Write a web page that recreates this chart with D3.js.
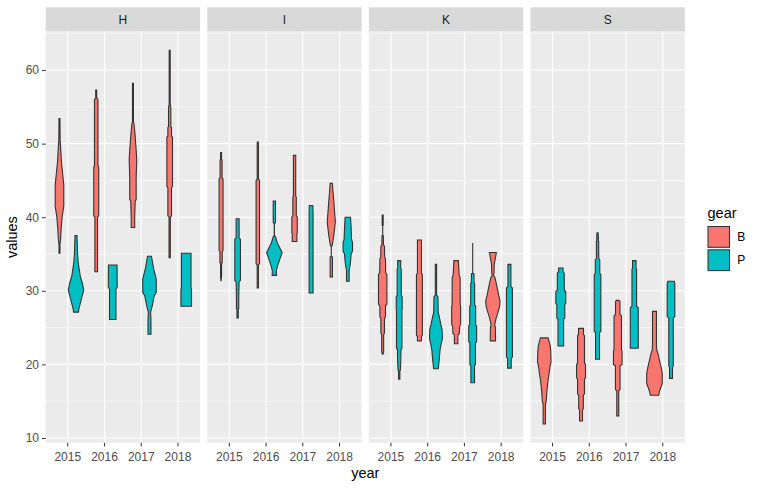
<!DOCTYPE html>
<html lang="en">
<head>
  <meta charset="UTF-8">
  <title>Violins by year and gear</title>
  <script src="https://d3js.org/d3.v7.min.js"></script>
  <style>
    body { margin: 0; background: #fff; }
    svg { display: block; font-family: "Liberation Sans", Arial, sans-serif; }
    .tick text { fill: #4D4D4D; font-size: 12px; }
    .tick line { stroke: #333333; }
  </style>
</head>
<body>
  <div id="chart"></div>
  <script>
    // facets, categories and tick values
    const facets = ["H", "I", "K", "S"];
    const years = ["2015", "2016", "2017", "2018"];
    const gears = ["B", "P"];
    const yTicks = [10, 20, 30, 40, 50, 60];

    // violin outlines: [value, relative density width]
    const violinsH = [
      { year: "2015", gear: "B", profile: [[53.4,0.12],[50.5,0.14],[49.5,0.2],[47.5,0.3],[45.5,0.48],[44.4,0.58],[41.5,0.58],[40.2,0.4],[38.6,0.27],[37.0,0.2],[36.3,0.12],[35.1,0.12]] },
      { year: "2015", gear: "P", profile: [[37.5,0.18],[35.0,0.25],[33.8,0.33],[32.0,0.57],[31.1,0.81],[30.1,1.0],[29.3,0.81],[28.4,0.6],[27.5,0.4],[27.1,0.36]] },
      { year: "2016", gear: "B", profile: [[57.3,0.12],[56.2,0.12],[56.0,0.27],[47.0,0.27],[46.8,0.36],[40.2,0.36],[40.0,0.22],[32.6,0.22]] },
      { year: "2016", gear: "P", profile: [[33.5,0.58],[30.5,0.6],[30.2,0.45],[26.1,0.45]] },
      { year: "2017", gear: "B", profile: [[58.2,0.12],[53.0,0.12],[52.8,0.18],[51.4,0.3],[49.6,0.42],[47.8,0.52],[45.5,0.45],[42.4,0.45],[42.2,0.33],[40.0,0.27],[38.6,0.27]] },
      { year: "2017", gear: "P", profile: [[34.7,0.3],[32.9,0.58],[31.6,0.88],[29.8,0.88],[29.3,0.63],[28.0,0.4],[27.1,0.2],[25.9,0.24],[24.1,0.24]] },
      { year: "2018", gear: "B", profile: [[62.7,0.12],[55.3,0.12],[55.0,0.2],[52.3,0.2],[52.2,0.28],[51.0,0.28],[50.9,0.4],[44.2,0.4],[44.0,0.28],[40.2,0.28],[40.0,0.14],[34.5,0.14]] },
      { year: "2018", gear: "P", profile: [[35.1,0.64],[30.4,0.64],[30.2,0.7],[27.9,0.7]] }
    ];
    const violinsI = [
      { year: "2015", gear: "B", profile: [[48.8,0.12],[47.9,0.12],[47.8,0.18],[45.4,0.18],[45.2,0.3],[35.5,0.3],[35.3,0.2],[33.8,0.2],[33.7,0.12],[32.0,0.12],[31.3,0.06]] },
      { year: "2015", gear: "P", profile: [[39.8,0.24],[37.2,0.24],[37.0,0.4],[31.4,0.4],[31.2,0.24],[29.0,0.2],[27.6,0.2],[27.5,0.14],[26.3,0.14]] },
      { year: "2016", gear: "B", profile: [[50.2,0.12],[49.8,0.14],[45.2,0.14],[45.0,0.27],[33.7,0.27],[33.5,0.14],[30.4,0.14]] },
      { year: "2016", gear: "P", profile: [[42.2,0.2],[39.3,0.2],[39.1,0.07],[37.5,0.07],[37.4,0.18],[36.5,0.42],[35.2,1.0],[34.3,0.72],[33.4,0.45],[32.7,0.3],[32.1,0.33]] },
      { year: "2017", gear: "B", profile: [[48.4,0.2],[42.9,0.2],[42.7,0.27],[40.2,0.27],[40.0,0.39],[37.9,0.39],[37.7,0.34],[36.7,0.34]] },
      { year: "2017", gear: "P", profile: [[41.6,0.27],[40.6,0.3],[29.7,0.3]] },
      { year: "2018", gear: "B", profile: [[44.6,0.2],[43.7,0.25],[42.4,0.35],[40.4,0.48],[39.5,0.55],[38.8,0.5],[37.5,0.36],[36.5,0.22],[36.1,0.15],[36.0,0.06],[34.7,0.06],[34.6,0.2],[31.9,0.2]] },
      { year: "2018", gear: "P", profile: [[40.0,0.39],[38.8,0.45],[37.0,0.51],[36.6,0.63],[35.4,0.63],[35.0,0.46],[34.1,0.4],[33.2,0.3],[32.8,0.22],[31.3,0.22]] }
    ];
    const violinsK = [
      { year: "2015", gear: "B", profile: [[40.3,0.12],[38.9,0.12],[38.8,0.06],[37.6,0.06],[37.5,0.14],[36.3,0.16],[36.0,0.28],[34.6,0.3],[34.3,0.4],[32.5,0.42],[32.2,0.57],[28.2,0.57],[27.9,0.4],[26.5,0.4],[26.2,0.28],[24.3,0.28],[24.0,0.18],[21.7,0.18],[21.4,0.1]] },
      { year: "2015", gear: "P", profile: [[34.1,0.24],[33.1,0.24],[32.9,0.31],[29.4,0.31],[29.2,0.42],[27.5,0.42],[27.3,0.39],[22.2,0.39],[22.0,0.27],[20.4,0.25],[19.2,0.2],[19.1,0.14],[18.0,0.14]] },
      { year: "2016", gear: "B", profile: [[36.9,0.3],[32.4,0.3],[32.2,0.42],[24.0,0.42],[23.8,0.3],[23.2,0.3]] },
      { year: "2016", gear: "P", profile: [[33.6,0.14],[29.4,0.14],[29.2,0.3],[27.1,0.33],[26.5,0.46],[25.5,0.64],[24.8,0.8],[23.5,0.84],[22.8,0.69],[21.9,0.55],[20.5,0.45],[19.4,0.34]] },
      { year: "2017", gear: "B", profile: [[34.1,0.33],[33.4,0.36],[32.2,0.42],[31.8,0.54],[28.2,0.55],[27.8,0.6],[25.5,0.6],[25.1,0.48],[24.2,0.45],[24.0,0.27],[22.8,0.27]] },
      { year: "2017", gear: "P", profile: [[36.5,0.06],[32.4,0.06],[32.3,0.22],[31.1,0.22],[31.0,0.3],[28.1,0.3],[27.9,0.42],[25.4,0.42],[25.2,0.54],[23.1,0.54],[22.9,0.4],[20.0,0.4],[19.8,0.28],[17.5,0.28]] },
      { year: "2018", gear: "B", profile: [[35.2,0.48],[34.7,0.4],[34.1,0.3],[33.5,0.22],[32.4,0.2],[32.1,0.14],[31.8,0.3],[31.1,0.45],[30.2,0.62],[29.3,0.78],[28.6,0.93],[27.9,0.88],[27.1,0.68],[26.3,0.45],[25.4,0.28],[25.0,0.36],[23.2,0.38]] },
      { year: "2018", gear: "P", profile: [[33.6,0.24],[30.6,0.24],[30.4,0.42],[21.0,0.42],[20.8,0.28],[19.5,0.28]] }
    ];
    const violinsS = [
      { year: "2015", gear: "B", profile: [[23.6,0.52],[23.2,0.62],[22.6,0.77],[21.9,0.84],[20.3,0.88],[19.7,0.75],[18.8,0.65],[17.7,0.5],[16.3,0.37],[15.0,0.3],[14.6,0.2],[11.9,0.2]] },
      { year: "2015", gear: "P", profile: [[33.1,0.33],[32.6,0.33],[32.4,0.48],[30.1,0.48],[29.9,0.66],[28.3,0.66],[28.1,0.54],[26.3,0.54],[26.1,0.4],[22.5,0.4]] },
      { year: "2016", gear: "B", profile: [[24.9,0.36],[24.1,0.36],[23.9,0.48],[20.2,0.48],[20.0,0.6],[18.2,0.6],[18.0,0.48],[16.0,0.48],[15.8,0.34],[14.0,0.34],[13.8,0.24],[12.3,0.24]] },
      { year: "2016", gear: "P", profile: [[37.9,0.12],[37.5,0.16],[36.8,0.16],[36.7,0.2],[34.4,0.2],[34.2,0.33],[32.4,0.33],[32.2,0.46],[24.5,0.46],[24.3,0.3],[20.7,0.3]] },
      { year: "2017", gear: "B", profile: [[28.7,0.24],[28.5,0.33],[26.8,0.33],[26.6,0.51],[22.0,0.51],[21.8,0.58],[20.0,0.58],[19.8,0.34],[16.6,0.34],[16.4,0.18],[13.0,0.18]] },
      { year: "2017", gear: "P", profile: [[34.1,0.27],[33.1,0.27],[32.9,0.34],[27.9,0.34],[27.7,0.54],[22.2,0.54]] },
      { year: "2018", gear: "B", profile: [[27.2,0.3],[22.6,0.3],[22.0,0.33],[21.4,0.5],[20.6,0.65],[19.7,0.85],[18.8,1.0],[17.4,1.0],[16.8,0.8],[16.3,0.65],[15.8,0.57]] },
      { year: "2018", gear: "P", profile: [[31.3,0.45],[31.0,0.52],[26.5,0.52],[26.3,0.33],[19.8,0.33],[19.6,0.24],[18.1,0.24]] }
    ];

    const violinsByFacet = { H: violinsH, I: violinsI, K: violinsK, S: violinsS };

    const width = 760, height = 489;
    const plot = { left: 45.7, right: 684.8, top: 31.5, bottom: 442.7 };
    const stripTop = 7.3;
    const panelGap = 7.3;

    const svg = d3.select("#chart").append("svg")
      .attr("width", width)
      .attr("height", height);

    // facet panels side by side
    const fx = d3.scaleBand()
      .domain(facets)
      .range([plot.left, plot.right])
      .paddingInner(panelGap / ((plot.right - plot.left + panelGap) / facets.length))
      .paddingOuter(0);
    const panelW = fx.bandwidth();

    // year positions inside a panel (ggplot discrete expansion of 0.6)
    const x = d3.scaleBand()
      .domain(years)
      .range([0, panelW])
      .paddingInner(0)
      .paddingOuter(0.1);
    const step = x.step();

    // dodge of the two gears inside one year slot (width 0.9)
    const dodge = d3.scaleBand()
      .domain(gears)
      .range([-0.45 * step, 0.45 * step]);

    const width1 = d3.scaleLinear().domain([0, 1]).range([0, dodge.bandwidth() / 2]);

    const allValues = facets.flatMap(f => violinsByFacet[f].flatMap(v => v.profile.map(p => p[0])));
    const [vMin, vMax] = d3.extent(allValues);
    const pad = (vMax - vMin) * 0.05;
    const y = d3.scaleLinear()
      .domain([vMin - pad, vMax + pad])
      .range([plot.bottom, plot.top]);

    const color = d3.scaleOrdinal().domain(gears).range(["#F8766D", "#00BFC4"]);

    const minorTicks = d3.range(5, 75, 10).filter(t => t >= y.domain()[0] && t <= y.domain()[1]);

    const line = d3.line();

    facets.forEach(f => {
      const g = svg.append("g").attr("transform", `translate(${fx(f)},0)`);

      // strip
      g.append("rect")
        .attr("x", 0).attr("y", stripTop)
        .attr("width", panelW).attr("height", plot.top - stripTop)
        .attr("fill", "#D9D9D9");
      g.append("text")
        .attr("x", panelW / 2)
        .attr("y", (stripTop + plot.top) / 2)
        .attr("dy", "0.35em")
        .attr("text-anchor", "middle")
        .attr("fill", "#1A1A1A")
        .style("font-size", "12px")
        .text(f);

      // panel background and grid
      g.append("rect")
        .attr("x", 0).attr("y", plot.top)
        .attr("width", panelW).attr("height", plot.bottom - plot.top)
        .attr("fill", "#EBEBEB");
      g.selectAll(".minor")
        .data(minorTicks)
        .enter().append("line")
        .attr("x1", 0).attr("x2", panelW)
        .attr("y1", d => y(d)).attr("y2", d => y(d))
        .attr("stroke", "#fff").attr("stroke-width", 0.55);
      g.selectAll(".major")
        .data(yTicks)
        .enter().append("line")
        .attr("x1", 0).attr("x2", panelW)
        .attr("y1", d => y(d)).attr("y2", d => y(d))
        .attr("stroke", "#fff").attr("stroke-width", 1.1);
      g.selectAll(".vmajor")
        .data(years)
        .enter().append("line")
        .attr("x1", d => x(d) + x.bandwidth() / 2).attr("x2", d => x(d) + x.bandwidth() / 2)
        .attr("y1", plot.top).attr("y2", plot.bottom)
        .attr("stroke", "#fff").attr("stroke-width", 1.1);

      // violins
      violinsByFacet[f].forEach(v => {
        const cx = x(v.year) + x.bandwidth() / 2 + dodge(v.gear) + dodge.bandwidth() / 2;
        const hw = w => Math.max(0, width1(w) - 0.5);
        const right = v.profile.map(p => [cx + hw(p[1]), y(p[0])]);
        const left = v.profile.slice().reverse().map(p => [cx - hw(p[1]), y(p[0])]);
        g.append("path")
          .attr("d", line(right.concat(left)) + "Z")
          .attr("fill", color(v.gear))
          .attr("stroke", "#333333")
          .attr("stroke-width", 1.1);
      });

      // x axis
      const ax = g.append("g")
        .attr("transform", `translate(0,${plot.bottom})`)
        .call(d3.axisBottom(x).tickSize(3.7).tickPadding(5.8));
      ax.select(".domain").remove();
    });

    // y axis
    const ay = svg.append("g")
      .attr("transform", `translate(${plot.left},0)`)
      .call(d3.axisLeft(y).tickValues(yTicks).tickSize(3.7).tickPadding(3));
    ay.select(".domain").remove();

    // axis titles
    svg.append("text")
      .attr("x", (plot.left + plot.right) / 2)
      .attr("y", 478)
      .attr("text-anchor", "middle")
      .style("font-size", "14.5px")
      .text("year");
    svg.append("text")
      .attr("transform", `translate(17,${(plot.top + plot.bottom) / 2}) rotate(-90)`)
      .attr("text-anchor", "middle")
      .style("font-size", "14.5px")
      .text("values");

    // legend
    const legend = svg.append("g").attr("transform", "translate(707.5,0)");
    legend.append("text")
      .attr("x", 0).attr("y", 218)
      .style("font-size", "14.5px")
      .text("gear");
    const keys = legend.selectAll(".key")
      .data(gears)
      .enter().append("g")
      .attr("transform", (d, i) => `translate(0,${226 + i * 23.3})`);
    keys.append("rect")
      .attr("x", 0.5).attr("y", 0.5)
      .attr("width", 21.5).attr("height", 20.8)
      .attr("fill", d => color(d))
      .attr("stroke", "#333333")
      .attr("stroke-width", 1.05);
    keys.append("text")
      .attr("x", 29.8).attr("y", 11)
      .attr("dy", "0.35em")
      .style("font-size", "12px")
      .text(d => d);
  </script>
</body>
</html>
